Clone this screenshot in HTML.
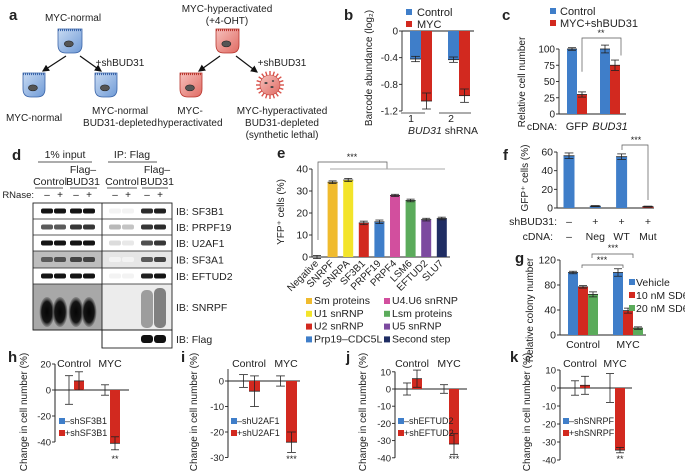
<!DOCTYPE html>
<html><head><meta charset="utf-8">
<style>
html,body{margin:0;padding:0;background:#fff;}
svg{display:block;font-family:"Liberation Sans",Arial,sans-serif;}
text{fill:#222;}
</style></head>
<body>
<svg id="fig" width="685" height="472" viewBox="0 0 685 472" xmlns="http://www.w3.org/2000/svg">
<defs>
 <linearGradient id="gBlue" x1="0" y1="0" x2="1" y2="1"><stop offset="0" stop-color="#c9dbf3"/><stop offset="1" stop-color="#6f9ad6"/></linearGradient>
 <linearGradient id="gRed" x1="0" y1="0" x2="1" y2="1"><stop offset="0" stop-color="#f6c1bd"/><stop offset="1" stop-color="#e06b63"/></linearGradient>
 <radialGradient id="blob"><stop offset="0" stop-color="#050505"/><stop offset="0.7" stop-color="#151515"/><stop offset="1" stop-color="#777" stop-opacity="0.6"/></radialGradient>
 <marker id="arr" markerWidth="6" markerHeight="6" refX="5" refY="3" orient="auto"><path d="M0,0 L6,3 L0,6 Z" fill="#111"/></marker>
</defs>

<!-- Panel a -->
<g font-size="10">
 <text x="9" y="20" font-weight="bold" font-size="15">a</text>
 <text x="73" y="21" text-anchor="middle">MYC-normal</text>
 <g id="cells"></g>
 <line x1="66" y1="56" x2="43" y2="71" stroke="#111" stroke-width="1.2" marker-end="url(#arr)"/>
 <line x1="80" y1="56" x2="101" y2="71" stroke="#111" stroke-width="1.2" marker-end="url(#arr)"/>
 <text x="120" y="66" text-anchor="middle">+shBUD31</text>
 <text x="34" y="121" text-anchor="middle">MYC-normal</text>
 <text x="120" y="114" text-anchor="middle">MYC-normal</text>
 <text x="120" y="126" text-anchor="middle">BUD31-depleted</text>
 <text x="227" y="12" text-anchor="middle">MYC-hyperactivated</text>
 <text x="227" y="24" text-anchor="middle">(+4-OHT)</text>
 <line x1="220" y1="56" x2="199" y2="71" stroke="#111" stroke-width="1.2" marker-end="url(#arr)"/>
 <line x1="236" y1="56" x2="257" y2="72" stroke="#111" stroke-width="1.2" marker-end="url(#arr)"/>
 <text x="282" y="66" text-anchor="middle">+shBUD31</text>
 <text x="190" y="114" text-anchor="middle">MYC-</text>
 <text x="190" y="126" text-anchor="middle">hyperactivated</text>
 <text x="282" y="114" text-anchor="middle">MYC-hyperactivated</text>
 <text x="282" y="126" text-anchor="middle">BUD31-depleted</text>
 <text x="282" y="138" text-anchor="middle">(synthetic lethal)</text>
</g>

<!-- Panel d -->
<g font-size="10.5">
 <text x="12" y="160" font-weight="bold" font-size="15">d</text>
 <text x="65" y="158" text-anchor="middle">1% input</text>
 <line x1="38" y1="162" x2="92" y2="162" stroke="#222" stroke-width="0.8"/>
 <text x="132" y="158" text-anchor="middle">IP: Flag</text>
 <line x1="108" y1="162" x2="157" y2="162" stroke="#222" stroke-width="0.8"/>
 <text x="50" y="185" text-anchor="middle">Control</text>
 <text x="83" y="173" text-anchor="middle">Flag–</text>
 <text x="83" y="185" text-anchor="middle">BUD31</text>
 <text x="122" y="185" text-anchor="middle">Control</text>
 <text x="157" y="173" text-anchor="middle">Flag–</text>
 <text x="157" y="185" text-anchor="middle">BUD31</text>
 <g stroke="#222" stroke-width="0.8"><line x1="35" y1="188" x2="63" y2="188"/><line x1="70" y1="188" x2="97" y2="188"/><line x1="107" y1="188" x2="137" y2="188"/><line x1="142" y1="188" x2="168" y2="188"/></g>
 <text x="34" y="198" text-anchor="end" font-size="9.5">RNase:</text>
 <g id="lanes" font-size="10" text-anchor="middle"></g>
 <g id="blot"></g>
</g>

<g id="charts"></g>
</svg>

<script>
// ---------------- DATA ----------------
// panel b
const bCats = ['1', '2'];
const bControl = [-0.42, -0.43];
const bControlErr = [0.04, 0.04];
const bMyc = [-1.05, -0.97];
const bMycErr = [0.12, 0.10];
const bTicks = [0, -0.4, -0.8, -1.2];
const bTickLabels = ['0', '-0.4', '-0.8', '-1.2'];
// panel c
const cCats = ['GFP', 'BUD31'];
const cControl = [100, 100];
const cControlErr = [2, 6];
const cMyc = [30, 75];
const cMycErr = [4, 8];
const cTicks = [0, 25, 50, 75, 100];
// panel e
const eCats = ['Negative', 'SNRPF', 'SNRPA', 'SF3B1', 'PRPF19', 'PRPF4', 'LSM6', 'EFTUD2', 'SLU7'];
const eValues = [0, 34, 35, 15.5, 16, 28, 25.7, 17, 17.5];
const eErr = [0.7, 0.6, 0.7, 0.8, 0.8, 0.5, 0.6, 0.6, 0.6];
const eTicks = [0, 10, 20, 30, 40];
const eLegend = ['Sm proteins', 'U1 snRNP', 'U2 snRNP', 'Prp19–CDC5L', 'U4.U6 snRNP', 'Lsm proteins', 'U5 snRNP', 'Second step'];
// panel f
const fValues = [56, 2, 55, 1.5];
const fErr = [3, 0.6, 3, 0.5];
const fSh = ['–', '+', '+', '+'];
const fCdna = ['–', 'Neg', 'WT', 'Mut'];
const fTicks = [0, 20, 40, 60];
// panel g
const gGroups = ['Control', 'MYC'];
const gVehicle = [100, 100];
const gVehicleErr = [2, 6];
const g10 = [77, 39];
const g10Err = [2, 4];
const g20 = [65, 11];
const g20Err = [4, 2];
const gTicks = [0, 40, 80, 120];
const gLegend = ['Vehicle', '10 nM SD6', '20 nM SD6'];
// panels h-k
const hkNames = ['h', 'i', 'j', 'k'];
const hkGenes = ['SF3B1', 'U2AF1', 'EFTUD2', 'SNRPF'];
const hkCtrlMinus = [0, 0, 0, 0];
const hkCtrlMinusErr = [11, 2.5, 3.5, 4];
const hkCtrlPlus = [7, -4, 6, 1.5];
const hkCtrlPlusErr = [7, 6, 5, 5];
const hkMycMinus = [0, 0, 0, 0];
const hkMycMinusErr = [4, 2, 2.5, 8];
const hkMycPlus = [-41, -24, -32, -34.5];
const hkMycPlusErr = [5, 4, 6, 1.5];
const hkSig = ['**', '***', '***', '**'];
const hTicks = [20, 0, -20, -40];
const iTicks = [0, -10, -20, -30];
const jTicks = [10, 0, -10, -20, -30, -40];
const kTicks = [10, 0, -10, -20, -30, -40];

// ---------------- HELPERS ----------------
const NS = 'http://www.w3.org/2000/svg';
const BLUE = '#3f7ec9', RED = '#d2291f', GREEN = '#5bab5b';
function el(tag, attrs, parent) {
  const e = document.createElementNS(NS, tag);
  for (const k in attrs) e.setAttribute(k, attrs[k]);
  parent.appendChild(e);
  return e;
}
function tx(str, x, y, attrs, parent) {
  const t = el('text', Object.assign({x: x, y: y}, attrs || {}), parent);
  t.textContent = str;
  return t;
}
function bar(parent, x, w, ys, v, err, color, name) {
  const y0 = ys(0), y1 = ys(v);
  const r = el('rect', {x: x, y: Math.min(y0, y1), width: w, height: Math.max(Math.abs(y1 - y0), 0.01), fill: color}, parent);
  
  
  const cx = x + w / 2;
  const eg = el('g', {stroke: '#222', 'stroke-width': 0.8}, parent);
  
  
  el('line', {x1: cx, x2: cx, y1: ys(v - err), y2: ys(v + err)}, eg);
  el('line', {x1: cx - w * 0.4, x2: cx + w * 0.4, y1: ys(v - err), y2: ys(v - err)}, eg);
  el('line', {x1: cx - w * 0.4, x2: cx + w * 0.4, y1: ys(v + err), y2: ys(v + err)}, eg);
  el('line', {x1: x, x2: x + w, y1: y1, y2: y1}, eg);
  return r;
}
function yAxis(parent, x, ys, ticks, labels, fs) {
  const g = el('g', {}, parent);
  
  
  const ymin = Math.min(...ticks.map(ys)), ymax = Math.max(...ticks.map(ys));
  el('line', {x1: x, x2: x, y1: ymin, y2: ymax, stroke: '#222', 'stroke-width': 0.9}, g);
  ticks.forEach((t, i) => {
    el('line', {x1: x - 3, x2: x, y1: ys(t), y2: ys(t), stroke: '#222', 'stroke-width': 0.9}, g);
    const lab = tx(labels ? labels[i] : String(t), x - 4, ys(t) + 3.5, {'text-anchor': 'end', 'font-size': fs || 10}, g);
    
    
  });
  return g;
}
function vTitle(parent, str, x, y, fs) {
  const t = tx(str, x, y, {'text-anchor': 'middle', 'font-size': fs || 10, transform: 'rotate(-90 ' + x + ' ' + y + ')'}, parent);
  
  
  return t;
}
function sq(parent, x, y, c) { el('rect', {x: x, y: y, width: 6, height: 6, fill: c}, parent); }
const root = document.getElementById('charts');

// ---------------- PANEL A cells ----------------
(function () {
  const g = document.getElementById('cells');
  function cell(x, y, w, h, fill, edge, name) {
    const cg = el('g', {}, g);
    
    
    el('path', {d: `M${x},${y} L${x + w},${y} L${x + w},${y + h - 8} Q${x + w},${y + h} ${x + w - 8},${y + h} L${x + 8},${y + h} Q${x},${y + h} ${x},${y + h - 8} Z`, fill: fill, stroke: edge, 'stroke-width': 0.8}, cg);
    el('line', {x1: x, x2: x + w, y1: y + 1, y2: y + 1, stroke: edge, 'stroke-width': 2.2, 'stroke-dasharray': '1 1'}, cg);
    el('ellipse', {cx: x + w * 0.45, cy: y + h * 0.62, rx: 4.5, ry: 3, fill: '#555', stroke: '#222', 'stroke-width': 0.6}, cg);
  }
  cell(58, 29, 24, 24, 'url(#gBlue)', '#3a64a8', 'myc-normal-cell');
  cell(23, 73, 22, 24, 'url(#gBlue)', '#3a64a8', 'myc-normal-daughter-cell');
  cell(95, 73, 22, 24, 'url(#gBlue)', '#3a64a8', 'bud31-depleted-cell');
  cell(216, 29, 23, 24, 'url(#gRed)', '#b8362e', 'myc-hyper-cell');
  cell(180, 73, 22, 24, 'url(#gRed)', '#b8362e', 'myc-hyper-daughter-cell');
  const d = el('g', {}, g);
  
  
  for (let a = 0; a < 360; a += 18) {
    const r = a * Math.PI / 180;
    el('line', {x1: 270 + 9 * Math.cos(r), y1: 85 + 9 * Math.sin(r), x2: 270 + 14 * Math.cos(r), y2: 85 + 14 * Math.sin(r), stroke: '#d9534b', 'stroke-width': 1.4}, d);
  }
  el('circle', {cx: 270, cy: 85, r: 10, fill: 'url(#gRed)', stroke: '#c0453d', 'stroke-width': 0.6}, d);
  el('ellipse', {cx: 266, cy: 83, rx: 1.6, ry: 1, fill: '#444'}, d);
  el('ellipse', {cx: 272, cy: 87, rx: 1.6, ry: 1, fill: '#444'}, d);
  el('ellipse', {cx: 273, cy: 81, rx: 1.2, ry: 0.9, fill: '#444'}, d);
})();

// ---------------- PANEL D blot ----------------
(function () {
  const lanesG = document.getElementById('lanes');
  const laneX = [47, 60, 76, 89, 115, 128, 147, 160];
  const rn = ['–', '+', '–', '+', '–', '+', '–', '+'];
  laneX.forEach((x, i) => tx(rn[i], x, 198, {}, lanesG));
  const g = document.getElementById('blot');
  const rows = [[203, 219, 'SF3B1'], [219, 235, 'PRPF19'], [235, 251, 'U2AF1'], [251, 268, 'SF3A1'], [268, 284, 'EFTUD2'], [284, 330, 'SNRPF']];
  el('rect', {x: 33, y: 251, width: 69, height: 17, fill: '#bdbdbd'}, g);
  el('rect', {x: 102, y: 251, width: 70, height: 17, fill: '#e6e6e6'}, g);
  el('rect', {x: 33, y: 284, width: 69, height: 46, fill: '#a8a8a8'}, g);
  el('rect', {x: 102, y: 284, width: 70, height: 46, fill: '#ececec'}, g);
  const intens = {
    SF3B1: [1, 1, 1, 1, 0.05, 0.05, 0.9, 0.95],
    PRPF19: [0.7, 0.7, 0.85, 0.85, 0.3, 0.25, 0.85, 0.9],
    U2AF1: [1, 1, 1, 1, 0.15, 0.1, 0.75, 0.85],
    SF3A1: [0.7, 0.75, 0.8, 0.8, 0.05, 0.05, 0.7, 0.8],
    EFTUD2: [1, 1, 1, 1, 0.05, 0.05, 0.95, 1]
  };
  rows.forEach(r => {
    const [y0, y1, nm] = r;
    const bg = el('g', {}, g);
    
    
    if (intens[nm]) {
      laneX.forEach((x, i) => {
        const v = intens[nm][i];
        const c = Math.round(255 - 235 * v);
        el('rect', {x: x - 6, y: (y0 + y1) / 2 - 2.5, width: 12, height: 5, rx: 2, fill: `rgb(${c},${c},${c})`}, bg);
      });
    } else {
      for (let i = 0; i < 4; i++) el('ellipse', {cx: laneX[i], cy: 312, rx: 7.5, ry: 15, fill: 'url(#blob)'}, bg);
      el('rect', {x: 141, y: 290, width: 12, height: 38, rx: 5, fill: '#8a8a8a', opacity: 0.8}, bg);
      el('rect', {x: 154, y: 288, width: 12, height: 40, rx: 5, fill: '#6d6d6d', opacity: 0.85}, bg);
    }
    el('line', {x1: 33, x2: 172, y1: y1, y2: y1, stroke: '#222', 'stroke-width': 0.8}, g);
    const lab = tx('IB: ' + nm, 176, (y0 + y1) / 2 + 4, {'font-size': 10.5}, g);
    
    
  });
  el('rect', {x: 33, y: 203, width: 139, height: 127, fill: 'none', stroke: '#222', 'stroke-width': 0.9}, g);
  el('line', {x1: 102, x2: 102, y1: 203, y2: 348, stroke: '#222', 'stroke-width': 0.9}, g);
  el('rect', {x: 102, y: 330, width: 70, height: 18, fill: 'none', stroke: '#222', 'stroke-width': 0.9}, g);
  el('rect', {x: 141, y: 335, width: 12, height: 8, rx: 3, fill: '#111'}, g);
  el('rect', {x: 154, y: 335, width: 12, height: 8, rx: 3, fill: '#111'}, g);
  const fl = tx('IB: Flag', 176, 343, {'font-size': 10.5}, g);
  
  
})();

// ---------------- PANEL B ----------------
(function () {
  const g = el('g', {}, root);
  
  
  tx('b', 344, 20, {'font-weight': 'bold', 'font-size': 15}, g);
  const ys = v => 31 + (-v) / 1.2 * 80;
  yAxis(g, 402, ys, bTicks, bTickLabels, 10);
  el('line', {x1: 402, x2: 474, y1: ys(0), y2: ys(0), stroke: '#222', 'stroke-width': 0.9}, g);
  vTitle(g, 'Barcode abundance (log₂)', 372, 68, 10);
  bCats.forEach((c, i) => {
    const x0 = 410 + i * 38;
    bar(g, x0, 11, ys, bControl[i], bControlErr[i], BLUE, 'bar-control-' + c);
    bar(g, x0 + 11, 11, ys, bMyc[i], bMycErr[i], RED, 'bar-myc-' + c);
    el('line', {x1: x0 - 9, x2: x0 + 15 + (i ? 8 : 0), y1: 113, y2: 113, stroke: '#222', 'stroke-width': 0.8}, g);
    const l = tx(c, x0 + 1 + i * 2, 122, {'text-anchor': 'middle', 'font-size': 10.5}, g);
    
    
  });
  const t = tx('', 408, 134, {'font-size': 10.5}, g);
  
  
  const s1 = el('tspan', {'font-style': 'italic'}, t); s1.textContent = 'BUD31';
  const s2 = el('tspan', {}, t); s2.textContent = ' shRNA';
  const lg = el('g', {}, g);
  
  
  sq(lg, 406, 9, BLUE); tx('Control', 417, 16, {'font-size': 11}, lg);
  sq(lg, 406, 21, RED); tx('MYC', 417, 28, {'font-size': 11}, lg);
})();

// ---------------- PANEL C ----------------
(function () {
  const g = el('g', {}, root);
  
  
  tx('c', 502, 20, {'font-weight': 'bold', 'font-size': 15}, g);
  const ys = v => 114 - v * 0.65;
  yAxis(g, 559, ys, cTicks, null, 10);
  el('line', {x1: 559, x2: 626, y1: ys(0), y2: ys(0), stroke: '#222', 'stroke-width': 0.9}, g);
  vTitle(g, 'Relative cell number', 525, 82, 10);
  cCats.forEach((c, i) => {
    const x0 = 567 + i * 33;
    bar(g, x0, 10, ys, cControl[i], cControlErr[i], BLUE, 'bar-control-' + c);
    bar(g, x0 + 10, 10, ys, cMyc[i], cMycErr[i], RED, 'bar-myc-' + c);
    const l = tx(c, x0 + 10, 130, {'text-anchor': 'middle', 'font-size': 11, 'font-style': i ? 'italic' : 'normal'}, g);
    
    
  });
  tx('cDNA:', 542, 130, {'text-anchor': 'middle', 'font-size': 10.5}, g);
  el('polyline', {points: `582,${ys(cMyc[0] + 35)} 582,38 621,38 621,${ys(cMyc[1] + 15)}`, fill: 'none', stroke: '#555', 'stroke-width': 0.7}, g);
  tx('**', 601, 36, {'text-anchor': 'middle', 'font-size': 9}, g);
  const lg = el('g', {}, g);
  
  
  sq(lg, 550, 8, BLUE); tx('Control', 560, 15, {'font-size': 11}, lg);
  sq(lg, 550, 20, RED); tx('MYC+shBUD31', 560, 27, {'font-size': 11}, lg);
})();

// ---------------- PANEL E ----------------
(function () {
  const cols = ['#999999', '#f0bb2e', '#f3e42a', '#d2291f', '#3f7ec9', '#d24f9e', '#5bab5b', '#7c4a9f', '#1f2d63'];
  const legCols = ['#f0bb2e', '#f3e42a', '#d2291f', '#3f7ec9', '#d24f9e', '#5bab5b', '#7c4a9f', '#1f2d63'];
  const g = el('g', {}, root);
  
  
  tx('e', 277, 158, {'font-weight': 'bold', 'font-size': 15}, g);
  const ys = v => 257 - v * 2.2;
  yAxis(g, 312, ys, eTicks, null, 10.5);
  el('line', {x1: 312, x2: 450, y1: ys(0), y2: ys(0), stroke: '#222', 'stroke-width': 0.9}, g);
  vTitle(g, 'YFP⁺ cells (%)', 284, 212, 10);
  eCats.forEach((c, i) => {
    const cx = 317 + i * 15.6;
    bar(g, cx - 5, 10, ys, eValues[i], eErr[i], cols[i], 'bar-' + c.toLowerCase());
    const l = tx(c, cx + 2, 264, {'text-anchor': 'end', 'font-size': 10, transform: `rotate(-45 ${cx + 2} 264)`}, g);
    
    
  });
  el('polyline', {points: '318,240 318,162 387,162 387,169', fill: 'none', stroke: '#555', 'stroke-width': 0.7}, g);
  el('line', {x1: 330, x2: 445, y1: 169, y2: 169, stroke: '#aaa', 'stroke-width': 1}, g);
  tx('***', 352, 160, {'text-anchor': 'middle', 'font-size': 9}, g);
  const lg = el('g', {}, g);
  
  
  eLegend.forEach((n, i) => {
    const col = Math.floor(i / 4), row = i % 4;
    const x = col ? 384 : 306, y = 302 + row * 12.8;
    sq(lg, x, y - 4, legCols[i]);
    const t = tx(n, x + 8, y + 2, {'font-size': 10.5}, lg);
    
    
  });
})();

// ---------------- PANEL F ----------------
(function () {
  const cols = [BLUE, BLUE, BLUE, '#b02a22'];
  const g = el('g', {}, root);
  
  
  tx('f', 503, 160, {'font-weight': 'bold', 'font-size': 15}, g);
  const ys = v => 208 - v * 0.933;
  yAxis(g, 557, ys, fTicks, null, 10.5);
  el('line', {x1: 557, x2: 654, y1: ys(0), y2: ys(0), stroke: '#222', 'stroke-width': 0.9}, g);
  vTitle(g, 'GFP⁺ cells (%)', 528, 178, 10);
  fValues.forEach((v, i) => {
    const cx = 569 + i * 26.3;
    bar(g, cx - 5.5, 11, ys, v, fErr[i], cols[i], 'bar-' + fCdna[i].toLowerCase() + '-' + i);
    tx(fSh[i], cx, 225, {'text-anchor': 'middle', 'font-size': 10.5}, g);
    tx(fCdna[i], cx, 240, {'text-anchor': 'middle', 'font-size': 10.5}, g);
  });
  tx('shBUD31:', 557, 225, {'text-anchor': 'end', 'font-size': 10.5}, g);
  tx('cDNA:', 553, 240, {'text-anchor': 'end', 'font-size': 10.5}, g);
  el('polyline', {points: '622,150 622,145 648,145 648,200', fill: 'none', stroke: '#555', 'stroke-width': 0.7}, g);
  tx('***', 636, 143, {'text-anchor': 'middle', 'font-size': 9}, g);
})();

// ---------------- PANEL G ----------------
(function () {
  const g = el('g', {}, root);
  
  
  tx('g', 515, 263, {'font-weight': 'bold', 'font-size': 15}, g);
  const ys = v => 335 - v * 0.625;
  yAxis(g, 560, ys, gTicks, null, 10.5);
  el('line', {x1: 560, x2: 646, y1: ys(0), y2: ys(0), stroke: '#222', 'stroke-width': 0.9}, g);
  vTitle(g, 'Relative colony number', 533, 310, 10);
  gGroups.forEach((c, i) => {
    const x0 = 568 + i * 45;
    bar(g, x0, 10, ys, gVehicle[i], gVehicleErr[i], BLUE, 'bar-vehicle-' + c.toLowerCase());
    bar(g, x0 + 10, 10, ys, g10[i], g10Err[i], RED, 'bar-10nm-' + c.toLowerCase());
    bar(g, x0 + 20, 10, ys, g20[i], g20Err[i], GREEN, 'bar-20nm-' + c.toLowerCase());
    const l = tx(c, x0 + 15, 348, {'text-anchor': 'middle', 'font-size': 10.5}, g);
    
    
  });
  el('polyline', {points: '582,268 582,265 623,265 623,268', fill: 'none', stroke: '#555', 'stroke-width': 0.7}, g);
  tx('***', 602, 263, {'text-anchor': 'middle', 'font-size': 9}, g);
  el('polyline', {points: '592,258 592,254 633,254 633,258', fill: 'none', stroke: '#555', 'stroke-width': 0.7}, g);
  tx('***', 613, 251, {'text-anchor': 'middle', 'font-size': 9}, g);
  const cols = [BLUE, RED, GREEN];
  const lg = el('g', {}, g);
  
  
  gLegend.forEach((n, i) => {
    sq(lg, 629, 279 + i * 13, cols[i]);
    const t = tx(n, 636, 286 + i * 13, {'font-size': 10.5}, lg);
    
    
  });
})();

// ---------------- PANELS H-K ----------------
(function () {
  const cfg = [
    {lx: 8, ax: 55, g0: 64, gap: 36, w: 10, zEnd: 129, z: 390, ppu: 1.3, title: 27, leg: 59, top: 20},
    {lx: 181, ax: 228, g0: 238, gap: 37, w: 11, zEnd: 300, z: 381, ppu: 2.55, title: 197, leg: 231, top: 4.7},
    {lx: 346, ax: 395, g0: 402, gap: 37, w: 10, zEnd: 467, z: 389, ppu: 1.72, title: 366, leg: 398, top: 10},
    {lx: 510, ax: 560, g0: 570, gap: 35, w: 10, zEnd: 632, z: 388, ppu: 1.8, title: 530, leg: 563, top: 10}
  ];
  const tickSets = [hTicks, iTicks, jTicks, kTicks];
  cfg.forEach((c, p) => {
    const g = el('g', {}, root);
    
    
    tx(hkNames[p], c.lx, 362, {'font-weight': 'bold', 'font-size': 15}, g);
    const ys = v => c.z - v * c.ppu;
    const tks = tickSets[p];
    yAxis(g, c.ax, ys, tks, tks.map(t => String(t)), 9.5);
    el('line', {x1: c.ax, x2: c.ax, y1: ys(c.top), y2: ys(Math.min(...tks)), stroke: '#222', 'stroke-width': 0.9}, g);
    el('line', {x1: c.ax, x2: c.zEnd, y1: ys(0), y2: ys(0), stroke: '#222', 'stroke-width': 0.9}, g);
    vTitle(g, 'Change in cell number (%)', c.title, 412, 10);
    const x0 = c.g0, x1 = c.g0 + c.gap;
    bar(g, x0, c.w, ys, hkCtrlMinus[p], hkCtrlMinusErr[p], BLUE, 'bar-control-minus');
    bar(g, x0 + c.w, c.w, ys, hkCtrlPlus[p], hkCtrlPlusErr[p], RED, 'bar-control-plus');
    bar(g, x1, c.w, ys, hkMycMinus[p], hkMycMinusErr[p], BLUE, 'bar-myc-minus');
    bar(g, x1 + c.w, c.w, ys, hkMycPlus[p], hkMycPlusErr[p], RED, 'bar-myc-plus');
    tx('Control', x0 + c.w, 367, {'text-anchor': 'middle', 'font-size': 10.5}, g);
    tx('MYC', x1 + c.w, 367, {'text-anchor': 'middle', 'font-size': 10.5}, g);
    tx(hkSig[p], x1 + c.w * 1.5, 462, {'text-anchor': 'middle', 'font-size': 9}, g);
    const lg = el('g', {}, g);
    
    
    sq(lg, c.leg, 418, BLUE); tx('–sh' + hkGenes[p], c.leg + 6, 424, {'font-size': 9}, lg);
    sq(lg, c.leg, 430, RED); tx('+sh' + hkGenes[p], c.leg + 6, 436, {'font-size': 9}, lg);
  });
})();
</script>
</body></html>
